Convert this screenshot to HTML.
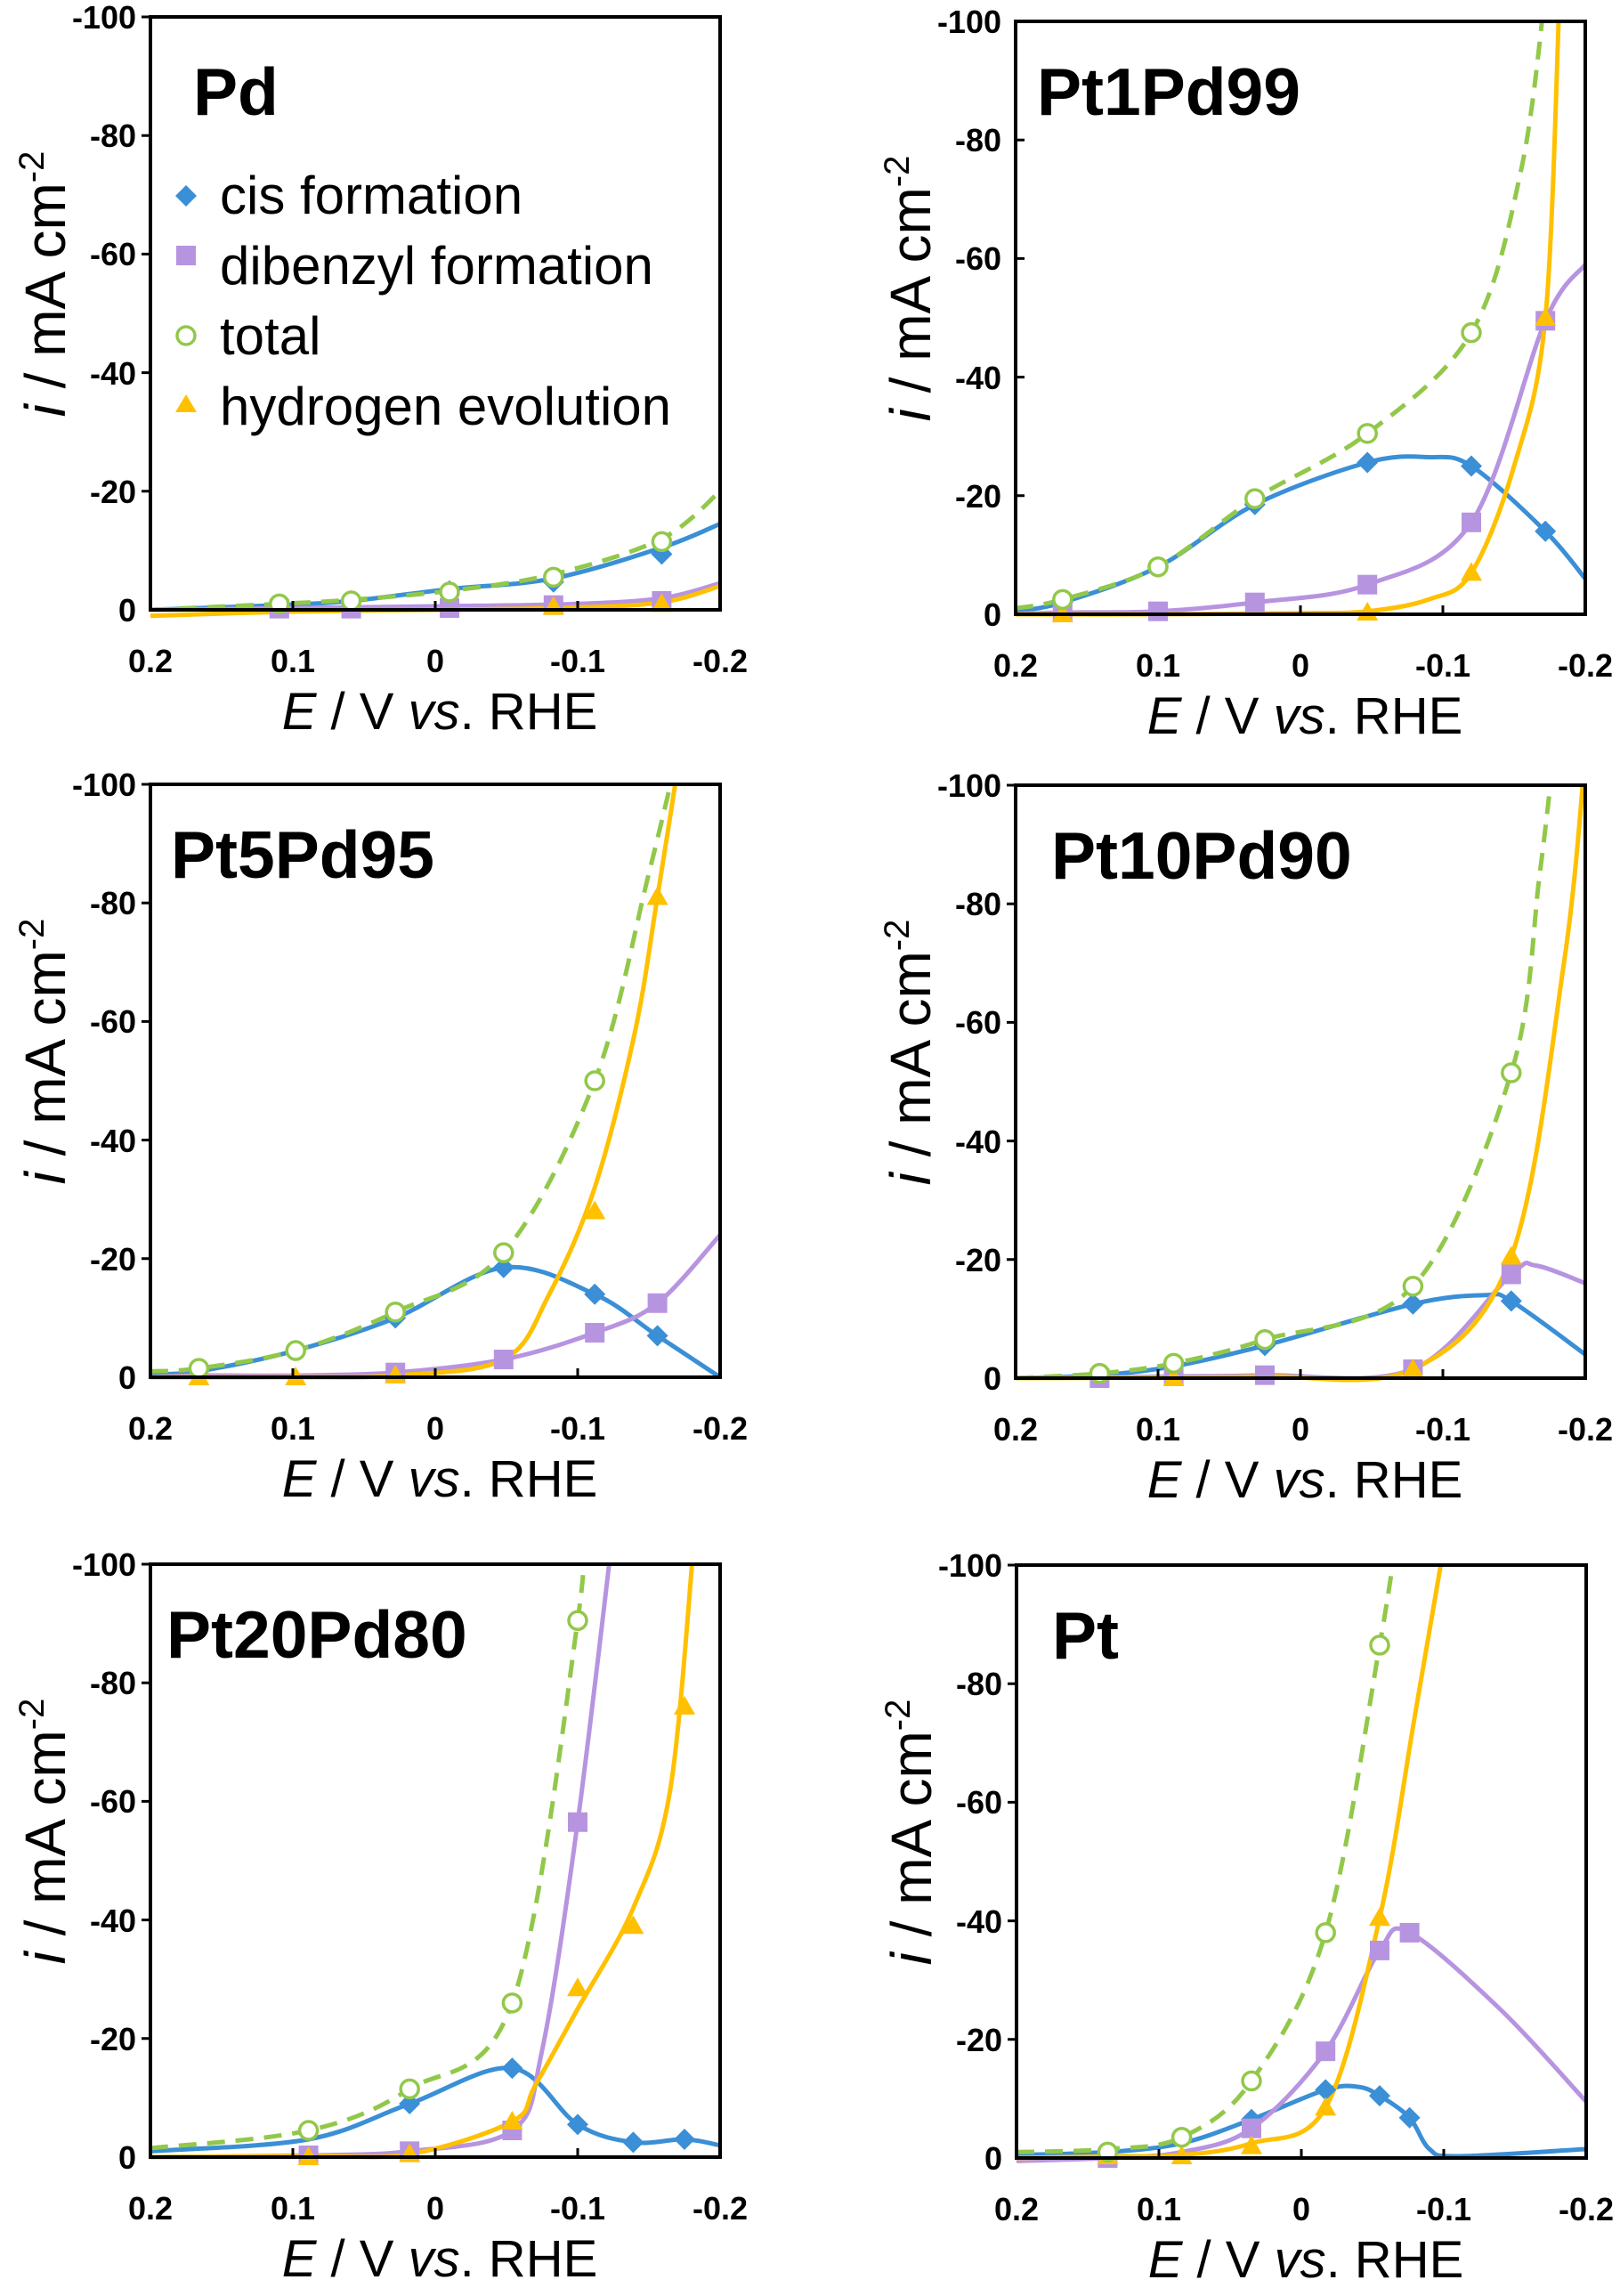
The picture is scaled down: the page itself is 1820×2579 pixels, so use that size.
<!DOCTYPE html>
<html><head><meta charset="utf-8"><style>
html,body{margin:0;padding:0;background:#fff;}
svg{display:block;}
.tk{font-family:"Liberation Sans",sans-serif;font-weight:bold;font-size:36px;fill:#000;}
.ttl{font-family:"Liberation Sans",sans-serif;font-size:58px;fill:#000;}
.yt{font-family:"Liberation Sans",sans-serif;font-size:64px;fill:#000;}
.pt{font-family:"Liberation Sans",sans-serif;font-weight:bold;font-size:75px;fill:#000;}
.lg{font-family:"Liberation Sans",sans-serif;font-size:60px;fill:#000;}
</style></head><body>
<svg id="s" width="1820" height="2579" viewBox="0 0 1820 2579" xmlns="http://www.w3.org/2000/svg">
<defs>
<clipPath id="cp"><rect x="-6" y="0" width="652" height="676"/></clipPath>
</defs>

<g id="g0" transform="translate(169,19)">
<g class="plot"></g>
<rect x="0" y="0" width="640" height="666" fill="none" stroke="#000" stroke-width="4"/>
<path d="M-10 0H0M-10 133.2H0M-10 266.4H0M-10 399.6H0M-10 532.8H0M160 666V656M320 666V656M480 666V656" stroke="#000" stroke-width="3"/>
<text class="tk" text-anchor="end" x="-16" y="13">-100</text><text class="tk" text-anchor="end" x="-16" y="146">-80</text><text class="tk" text-anchor="end" x="-16" y="279">-60</text><text class="tk" text-anchor="end" x="-16" y="413">-40</text><text class="tk" text-anchor="end" x="-16" y="546">-20</text><text class="tk" text-anchor="end" x="-16" y="679">0</text>
<text class="tk" text-anchor="middle" x="0" y="736">0.2</text><text class="tk" text-anchor="middle" x="160" y="736">0.1</text><text class="tk" text-anchor="middle" x="320" y="736">0</text><text class="tk" text-anchor="middle" x="480" y="736">-0.1</text><text class="tk" text-anchor="middle" x="640" y="736">-0.2</text>
<text class="ttl" text-anchor="middle" x="325" y="800"><tspan font-style="italic">E</tspan> / V <tspan font-style="italic">vs</tspan>. RHE</text>
<text class="yt" text-anchor="middle" transform="translate(-96,300) rotate(-90)"><tspan font-style="italic">i</tspan> / mA cm<tspan font-size="40" dy="-24">-2</tspan></text>
<text class="pt" x="48" y="110">Pd</text>
<path d="M40 189l12 12l-12 12l-12 -12z" fill="#3a8fd6"/>
<rect x="40" y="268" width="22" height="22" transform="translate(-11,-11)" fill="#b794e0"/>
<circle cx="40" cy="358" r="10" fill="#fff" stroke="#92c84a" stroke-width="3.5"/>
<path d="M40 424l12 20h-24z" fill="#ffc000"/>
<text class="lg" x="78" y="221">cis formation</text>
<text class="lg" x="78" y="300">dibenzyl formation</text>
<text class="lg" x="78" y="379">total</text>
<text class="lg" x="78" y="458">hydrogen evolution</text>
</g>

<g id="g1" transform="translate(1141,24)">
<g class="plot"></g>
<rect x="0" y="0" width="640" height="666" fill="none" stroke="#000" stroke-width="4"/>
<path d="M0 133.2H10M0 266.4H10M0 399.6H10M0 532.8H10M320 666V656M480 666V656" stroke="#000" stroke-width="3"/>
<text class="tk" text-anchor="end" x="-16" y="13">-100</text><text class="tk" text-anchor="end" x="-16" y="146">-80</text><text class="tk" text-anchor="end" x="-16" y="279">-60</text><text class="tk" text-anchor="end" x="-16" y="413">-40</text><text class="tk" text-anchor="end" x="-16" y="546">-20</text><text class="tk" text-anchor="end" x="-16" y="679">0</text>
<text class="tk" text-anchor="middle" x="0" y="736">0.2</text><text class="tk" text-anchor="middle" x="160" y="736">0.1</text><text class="tk" text-anchor="middle" x="320" y="736">0</text><text class="tk" text-anchor="middle" x="480" y="736">-0.1</text><text class="tk" text-anchor="middle" x="640" y="736">-0.2</text>
<text class="ttl" text-anchor="middle" x="325" y="800"><tspan font-style="italic">E</tspan> / V <tspan font-style="italic">vs</tspan>. RHE</text>
<text class="yt" text-anchor="middle" transform="translate(-96,300) rotate(-90)"><tspan font-style="italic">i</tspan> / mA cm<tspan font-size="40" dy="-24">-2</tspan></text>
<text class="pt" x="24" y="105">Pt1Pd99</text>
</g>

<g id="g2" transform="translate(169,881)">
<g class="plot"></g>
<rect x="0" y="0" width="640" height="666" fill="none" stroke="#000" stroke-width="4"/>
<path d="M-10 0H0M-10 133.2H0M-10 266.4H0M-10 399.6H0M-10 532.8H0M160 666V656M320 666V656M480 666V656" stroke="#000" stroke-width="3"/>
<text class="tk" text-anchor="end" x="-16" y="13">-100</text><text class="tk" text-anchor="end" x="-16" y="146">-80</text><text class="tk" text-anchor="end" x="-16" y="279">-60</text><text class="tk" text-anchor="end" x="-16" y="413">-40</text><text class="tk" text-anchor="end" x="-16" y="546">-20</text><text class="tk" text-anchor="end" x="-16" y="679">0</text>
<text class="tk" text-anchor="middle" x="0" y="736">0.2</text><text class="tk" text-anchor="middle" x="160" y="736">0.1</text><text class="tk" text-anchor="middle" x="320" y="736">0</text><text class="tk" text-anchor="middle" x="480" y="736">-0.1</text><text class="tk" text-anchor="middle" x="640" y="736">-0.2</text>
<text class="ttl" text-anchor="middle" x="325" y="800"><tspan font-style="italic">E</tspan> / V <tspan font-style="italic">vs</tspan>. RHE</text>
<text class="yt" text-anchor="middle" transform="translate(-96,300) rotate(-90)"><tspan font-style="italic">i</tspan> / mA cm<tspan font-size="40" dy="-24">-2</tspan></text>
<text class="pt" x="23" y="105">Pt5Pd95</text>
</g>

<g id="g3" transform="translate(1141,882)">
<g class="plot"></g>
<rect x="0" y="0" width="640" height="666" fill="none" stroke="#000" stroke-width="4"/>
<path d="M-10 0H0M-10 133.2H0M-10 266.4H0M-10 399.6H0M-10 532.8H0M160 666V656M320 666V656M480 666V656" stroke="#000" stroke-width="3"/>
<text class="tk" text-anchor="end" x="-16" y="13">-100</text><text class="tk" text-anchor="end" x="-16" y="146">-80</text><text class="tk" text-anchor="end" x="-16" y="279">-60</text><text class="tk" text-anchor="end" x="-16" y="413">-40</text><text class="tk" text-anchor="end" x="-16" y="546">-20</text><text class="tk" text-anchor="end" x="-16" y="679">0</text>
<text class="tk" text-anchor="middle" x="0" y="736">0.2</text><text class="tk" text-anchor="middle" x="160" y="736">0.1</text><text class="tk" text-anchor="middle" x="320" y="736">0</text><text class="tk" text-anchor="middle" x="480" y="736">-0.1</text><text class="tk" text-anchor="middle" x="640" y="736">-0.2</text>
<text class="ttl" text-anchor="middle" x="325" y="800"><tspan font-style="italic">E</tspan> / V <tspan font-style="italic">vs</tspan>. RHE</text>
<text class="yt" text-anchor="middle" transform="translate(-96,300) rotate(-90)"><tspan font-style="italic">i</tspan> / mA cm<tspan font-size="40" dy="-24">-2</tspan></text>
<text class="pt" x="40" y="105">Pt10Pd90</text>
</g>

<g id="g4" transform="translate(169,1757)">
<g class="plot"></g>
<rect x="0" y="0" width="640" height="666" fill="none" stroke="#000" stroke-width="4"/>
<path d="M-10 0H0M-10 133.2H0M-10 266.4H0M-10 399.6H0M-10 532.8H0M160 666V656M320 666V656M480 666V656" stroke="#000" stroke-width="3"/>
<text class="tk" text-anchor="end" x="-16" y="13">-100</text><text class="tk" text-anchor="end" x="-16" y="146">-80</text><text class="tk" text-anchor="end" x="-16" y="279">-60</text><text class="tk" text-anchor="end" x="-16" y="413">-40</text><text class="tk" text-anchor="end" x="-16" y="546">-20</text><text class="tk" text-anchor="end" x="-16" y="679">0</text>
<text class="tk" text-anchor="middle" x="0" y="736">0.2</text><text class="tk" text-anchor="middle" x="160" y="736">0.1</text><text class="tk" text-anchor="middle" x="320" y="736">0</text><text class="tk" text-anchor="middle" x="480" y="736">-0.1</text><text class="tk" text-anchor="middle" x="640" y="736">-0.2</text>
<text class="ttl" text-anchor="middle" x="325" y="800"><tspan font-style="italic">E</tspan> / V <tspan font-style="italic">vs</tspan>. RHE</text>
<text class="yt" text-anchor="middle" transform="translate(-96,300) rotate(-90)"><tspan font-style="italic">i</tspan> / mA cm<tspan font-size="40" dy="-24">-2</tspan></text>
<text class="pt" x="18" y="105">Pt20Pd80</text>
</g>

<g id="g5" transform="translate(1142,1758)">
<g class="plot"></g>
<rect x="0" y="0" width="640" height="666" fill="none" stroke="#000" stroke-width="4"/>
<path d="M-10 0H0M-10 133.2H0M-10 266.4H0M-10 399.6H0M-10 532.8H0M160 666V656M320 666V656M480 666V656" stroke="#000" stroke-width="3"/>
<text class="tk" text-anchor="end" x="-16" y="13">-100</text><text class="tk" text-anchor="end" x="-16" y="146">-80</text><text class="tk" text-anchor="end" x="-16" y="279">-60</text><text class="tk" text-anchor="end" x="-16" y="413">-40</text><text class="tk" text-anchor="end" x="-16" y="546">-20</text><text class="tk" text-anchor="end" x="-16" y="679">0</text>
<text class="tk" text-anchor="middle" x="0" y="736">0.2</text><text class="tk" text-anchor="middle" x="160" y="736">0.1</text><text class="tk" text-anchor="middle" x="320" y="736">0</text><text class="tk" text-anchor="middle" x="480" y="736">-0.1</text><text class="tk" text-anchor="middle" x="640" y="736">-0.2</text>
<text class="ttl" text-anchor="middle" x="325" y="800"><tspan font-style="italic">E</tspan> / V <tspan font-style="italic">vs</tspan>. RHE</text>
<text class="yt" text-anchor="middle" transform="translate(-96,300) rotate(-90)"><tspan font-style="italic">i</tspan> / mA cm<tspan font-size="40" dy="-24">-2</tspan></text>
<text class="pt" x="40" y="105">Pt</text>
</g>
</svg>
<script>
var C={cis:"#3a8fd6",dib:"#b794e0",tot:"#92c84a",h2:"#ffc000"};
var D=[
{cis:[[0.2,0],[0.1095,0.8],[0.059,1.5],[-0.01,3.5],[-0.083,5.3],[-0.159,10.5],[-0.2,14.5]],
 tot:[[0.2,0],[0.11,1],[0.059,1.7],[-0.01,3.2],[-0.083,6],[-0.159,12],[-0.2,20]],
 dib:[[0.2,0],[0.1,0.3],[0,0.6],[-0.1,1],[-0.16,2],[-0.2,4.5]],
 h2:[[0.2,-1],[0.1,-0.3],[0,0],[-0.1,0.4],[-0.16,1.3],[-0.2,4]],
 mc:[[0.1095,0.8],[0.059,1.5],[-0.01,3.2],[-0.083,4.7],[-0.159,9.4]],
 md:[[0.1095,0.2],[0.059,0.2],[-0.01,0.3],[-0.083,0.8],[-0.159,1.5]],
 mt:[[0.1095,1],[0.059,1.5],[-0.01,3],[-0.083,5.5],[-0.159,11.5]],
 mh:[[-0.083,0.5],[-0.159,1]]},
{cis:[[0.2,0.5],[0.167,2],[0.1,8],[0.032,18.5],[-0.047,25.6],[-0.09,26.5],[-0.12,25],[-0.172,14],[-0.2,6]],
 tot:[[0.2,1],[0.167,2.5],[0.1,8],[0.032,19.5],[-0.047,30.5],[-0.12,47.5],[-0.155,75],[-0.172,105]],
 dib:[[0.2,0],[0.167,0.3],[0.1,0.5],[0.032,2],[-0.047,5],[-0.12,15.5],[-0.172,49.5],[-0.2,59]],
 h2:[[0.2,0],[0.1,0],[0,0.2],[-0.047,0.5],[-0.09,2.5],[-0.12,7],[-0.15,25],[-0.172,50],[-0.182,105]],
 mc:[[0.167,2],[0.1,8],[0.032,18.5],[-0.047,25.6],[-0.12,25],[-0.172,14]],
 md:[[0.167,0.3],[0.1,0.5],[0.032,2],[-0.047,5],[-0.12,15.5],[-0.172,49.5]],
 mt:[[0.167,2.5],[0.1,8],[0.032,19.5],[-0.047,30.5],[-0.12,47.5]],
 mh:[[0.167,0],[-0.047,0.3],[-0.12,7],[-0.172,50]]},
{cis:[[0.2,0.5],[0.166,1],[0.098,4.5],[0.028,10],[-0.048,18.5],[-0.112,14],[-0.156,7],[-0.2,0]],
 tot:[[0.2,1],[0.166,1.5],[0.098,4.5],[0.028,11],[-0.048,21],[-0.112,50],[-0.15,85],[-0.175,110]],
 dib:[[0.2,0],[0.166,0.3],[0.098,0.3],[0.028,0.8],[-0.048,3],[-0.112,7.5],[-0.156,12.5],[-0.2,24]],
 h2:[[0.2,0],[0.1,0],[0.028,0.3],[-0.048,3],[-0.08,14],[-0.112,32],[-0.14,58],[-0.156,81],[-0.175,110]],
 mc:[[0.166,1],[0.098,4.5],[0.028,10],[-0.048,18.5],[-0.112,14],[-0.156,7]],
 md:[[0.028,0.8],[-0.048,3],[-0.112,7.5],[-0.156,12.5]],
 mt:[[0.166,1.5],[0.098,4.5],[0.028,11],[-0.048,21],[-0.112,50]],
 mh:[[0.166,0],[0.098,0],[0.028,0.3],[-0.112,28],[-0.156,81]]},
{cis:[[0.2,0],[0.141,0.5],[0.089,2],[0.025,5.5],[-0.079,12.5],[-0.13,14],[-0.148,13],[-0.2,4]],
 tot:[[0.2,0],[0.141,0.8],[0.089,2.5],[0.025,6.5],[-0.079,15.5],[-0.148,51.5],[-0.168,85],[-0.18,110]],
 dib:[[0.2,0],[0.141,0.1],[0.089,0.3],[0.025,0.5],[-0.079,1.5],[-0.148,17.5],[-0.165,19],[-0.2,16]],
 h2:[[0.2,0],[0.089,0.1],[0.025,0.3],[-0.079,1.5],[-0.148,20.5],[-0.185,70],[-0.2,105]],
 mc:[[0.141,0.5],[0.089,2],[0.025,5.5],[-0.079,12.5],[-0.148,13]],
 md:[[0.141,0],[0.089,0.3],[0.025,0.5],[-0.079,1.5],[-0.148,17.5]],
 mt:[[0.141,0.8],[0.089,2.5],[0.025,6.5],[-0.079,15.5],[-0.148,51.5]],
 mh:[[0.089,0],[-0.079,1.5],[-0.148,20.5]]},
{cis:[[0.2,1],[0.089,3],[0.018,9],[-0.054,15],[-0.1,5.5],[-0.139,2.5],[-0.175,3],[-0.2,2]],
 tot:[[0.2,1.5],[0.089,4.5],[0.018,11.5],[-0.054,26],[-0.1,90.5],[-0.104,110]],
 dib:[[0.2,0],[0.089,0.3],[0.018,1],[-0.054,4.5],[-0.075,18],[-0.1,56.5],[-0.127,110]],
 h2:[[0.2,0],[0.089,0.2],[0.018,0.5],[-0.054,6],[-0.07,12],[-0.1,25],[-0.139,42],[-0.165,62],[-0.182,105]],
 mc:[[0.018,9],[-0.054,15],[-0.1,5.5],[-0.139,2.5],[-0.175,3]],
 md:[[0.089,0.3],[0.018,1],[-0.054,4.5],[-0.1,56.5]],
 mt:[[0.089,4.5],[0.018,11.5],[-0.054,26],[-0.1,90.5]],
 mh:[[0.089,0],[0.018,0.5],[-0.054,6],[-0.1,28.5],[-0.139,39],[-0.175,76]]},
{cis:[[0.2,0.5],[0.136,1],[0.084,2.5],[0.035,6.5],[-0.017,11.5],[-0.04,12],[-0.055,10.5],[-0.076,6.8],[-0.09,1.5],[-0.11,0.3],[-0.2,1.5]],
 tot:[[0.2,1],[0.136,1.5],[0.084,3.5],[0.035,13],[-0.017,38],[-0.055,86.5],[-0.07,110]],
 dib:[[0.2,-0.5],[0.136,0],[0.084,1],[0.035,5],[-0.017,18],[-0.055,35],[-0.076,38],[-0.14,25],[-0.2,9.5]],
 h2:[[0.2,0],[0.136,0.3],[0.084,0.5],[0.035,2.5],[-0.017,8.5],[-0.055,40.5],[-0.08,75],[-0.105,110]],
 mc:[[0.035,6.5],[-0.017,11.5],[-0.055,10.5],[-0.076,6.8]],
 md:[[0.136,0],[0.035,5],[-0.017,18],[-0.055,35],[-0.076,38]],
 mt:[[0.136,1],[0.084,3.5],[0.035,13],[-0.017,38],[-0.055,86.5]],
 mh:[[0.136,0.3],[0.084,0.3],[0.035,2],[-0.017,8.5],[-0.055,40.5]]}
];
var NS="http://www.w3.org/2000/svg";
function X(e){return (0.2-e)*1600;}
function Y(i){return 666-i*6.66;}
function path(pts){
 var p=pts.map(function(a){return [X(a[0]),Y(a[1])];});
 var d="M"+p[0][0].toFixed(1)+" "+p[0][1].toFixed(1);
 for(var k=0;k<p.length-1;k++){
  var p0=p[k-1]||p[k],p1=p[k],p2=p[k+1],p3=p[k+2]||p[k+1];
  var c1=[p1[0]+(p2[0]-p0[0])/6,p1[1]+(p2[1]-p0[1])/6];
  var c2=[p2[0]-(p3[0]-p1[0])/6,p2[1]-(p3[1]-p1[1])/6];
  d+="C"+c1[0].toFixed(1)+" "+c1[1].toFixed(1)+" "+c2[0].toFixed(1)+" "+c2[1].toFixed(1)+" "+p2[0].toFixed(1)+" "+p2[1].toFixed(1);
 }
 return d;
}
function el(n,a,par){var e=document.createElementNS(NS,n);for(var k in a)e.setAttribute(k,a[k]);par.appendChild(e);return e;}
D.forEach(function(d,idx){
 var g=document.querySelector("#g"+idx+" .plot");
 var cg=el("g",{"clip-path":"url(#cp)"},g);
 el("path",{d:path(d.cis),fill:"none",stroke:C.cis,"stroke-width":5},cg);
 el("path",{d:path(d.dib),fill:"none",stroke:C.dib,"stroke-width":5},cg);
 el("path",{d:path(d.h2),fill:"none",stroke:C.h2,"stroke-width":5},cg);
 el("path",{d:path(d.tot),fill:"none",stroke:C.tot,"stroke-width":5,"stroke-dasharray":"20 12"},cg);
 d.mc.forEach(function(a){var x=X(a[0]),y=Y(a[1]);el("path",{d:"M"+x+" "+(y-12)+"l12 12l-12 12l-12 -12z",fill:C.cis},g);});
 d.md.forEach(function(a){var x=X(a[0]),y=Y(a[1]);el("rect",{x:x-11,y:y-11,width:22,height:22,fill:C.dib},g);});
 d.mh.forEach(function(a){var x=X(a[0]),y=Y(a[1]);el("path",{d:"M"+x+" "+(y-12)+"l12 21h-24z",fill:C.h2},g);});
 d.mt.forEach(function(a){var x=X(a[0]),y=Y(a[1]);el("circle",{cx:x,cy:y,r:10,fill:"#fff",stroke:C.tot,"stroke-width":3.5},g);});
});
</script>
</body></html>
